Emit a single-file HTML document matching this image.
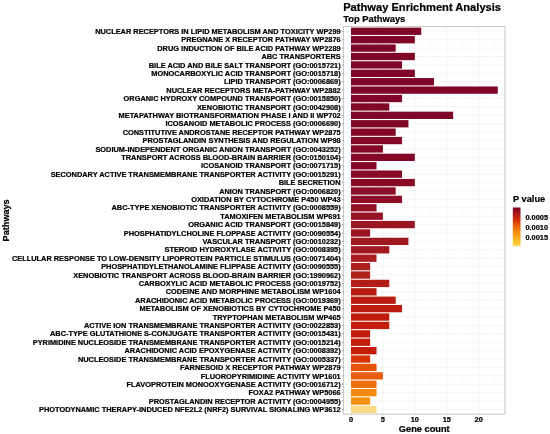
<!DOCTYPE html><html><head><meta charset="utf-8"><title>Pathway Enrichment Analysis</title>
<style>html,body{margin:0;padding:0;background:#fff}svg{display:block}text{font-family:"Liberation Sans",Arial,sans-serif;font-weight:bold;fill:#000;stroke:#000;stroke-width:0.22px;stroke-linejoin:round}</style></head><body>
<svg width="550" height="434" viewBox="0 0 550 434">
<rect width="550" height="434" fill="#fff"/>
<g stroke="#e8e8e8" fill="none">
<line x1="366.96" x2="366.96" y1="26.6" y2="414.1" stroke-width="0.22"/>
<line x1="398.87" x2="398.87" y1="26.6" y2="414.1" stroke-width="0.22"/>
<line x1="430.79" x2="430.79" y1="26.6" y2="414.1" stroke-width="0.22"/>
<line x1="462.70" x2="462.70" y1="26.6" y2="414.1" stroke-width="0.22"/>
<line x1="494.62" x2="494.62" y1="26.6" y2="414.1" stroke-width="0.22"/>
<line x1="351.00" x2="351.00" y1="26.6" y2="414.1" stroke-width="0.45"/>
<line x1="382.92" x2="382.92" y1="26.6" y2="414.1" stroke-width="0.45"/>
<line x1="414.83" x2="414.83" y1="26.6" y2="414.1" stroke-width="0.45"/>
<line x1="446.75" x2="446.75" y1="26.6" y2="414.1" stroke-width="0.45"/>
<line x1="478.66" x2="478.66" y1="26.6" y2="414.1" stroke-width="0.45"/>
<line x1="343.5" x2="505.0" y1="31.30" y2="31.30" stroke-width="0.45"/>
<line x1="343.5" x2="505.0" y1="39.70" y2="39.70" stroke-width="0.45"/>
<line x1="343.5" x2="505.0" y1="48.11" y2="48.11" stroke-width="0.45"/>
<line x1="343.5" x2="505.0" y1="56.51" y2="56.51" stroke-width="0.45"/>
<line x1="343.5" x2="505.0" y1="64.92" y2="64.92" stroke-width="0.45"/>
<line x1="343.5" x2="505.0" y1="73.32" y2="73.32" stroke-width="0.45"/>
<line x1="343.5" x2="505.0" y1="81.72" y2="81.72" stroke-width="0.45"/>
<line x1="343.5" x2="505.0" y1="90.13" y2="90.13" stroke-width="0.45"/>
<line x1="343.5" x2="505.0" y1="98.53" y2="98.53" stroke-width="0.45"/>
<line x1="343.5" x2="505.0" y1="106.94" y2="106.94" stroke-width="0.45"/>
<line x1="343.5" x2="505.0" y1="115.34" y2="115.34" stroke-width="0.45"/>
<line x1="343.5" x2="505.0" y1="123.74" y2="123.74" stroke-width="0.45"/>
<line x1="343.5" x2="505.0" y1="132.15" y2="132.15" stroke-width="0.45"/>
<line x1="343.5" x2="505.0" y1="140.55" y2="140.55" stroke-width="0.45"/>
<line x1="343.5" x2="505.0" y1="148.96" y2="148.96" stroke-width="0.45"/>
<line x1="343.5" x2="505.0" y1="157.36" y2="157.36" stroke-width="0.45"/>
<line x1="343.5" x2="505.0" y1="165.76" y2="165.76" stroke-width="0.45"/>
<line x1="343.5" x2="505.0" y1="174.17" y2="174.17" stroke-width="0.45"/>
<line x1="343.5" x2="505.0" y1="182.57" y2="182.57" stroke-width="0.45"/>
<line x1="343.5" x2="505.0" y1="190.98" y2="190.98" stroke-width="0.45"/>
<line x1="343.5" x2="505.0" y1="199.38" y2="199.38" stroke-width="0.45"/>
<line x1="343.5" x2="505.0" y1="207.78" y2="207.78" stroke-width="0.45"/>
<line x1="343.5" x2="505.0" y1="216.19" y2="216.19" stroke-width="0.45"/>
<line x1="343.5" x2="505.0" y1="224.59" y2="224.59" stroke-width="0.45"/>
<line x1="343.5" x2="505.0" y1="233.00" y2="233.00" stroke-width="0.45"/>
<line x1="343.5" x2="505.0" y1="241.40" y2="241.40" stroke-width="0.45"/>
<line x1="343.5" x2="505.0" y1="249.80" y2="249.80" stroke-width="0.45"/>
<line x1="343.5" x2="505.0" y1="258.21" y2="258.21" stroke-width="0.45"/>
<line x1="343.5" x2="505.0" y1="266.61" y2="266.61" stroke-width="0.45"/>
<line x1="343.5" x2="505.0" y1="275.02" y2="275.02" stroke-width="0.45"/>
<line x1="343.5" x2="505.0" y1="283.42" y2="283.42" stroke-width="0.45"/>
<line x1="343.5" x2="505.0" y1="291.82" y2="291.82" stroke-width="0.45"/>
<line x1="343.5" x2="505.0" y1="300.23" y2="300.23" stroke-width="0.45"/>
<line x1="343.5" x2="505.0" y1="308.63" y2="308.63" stroke-width="0.45"/>
<line x1="343.5" x2="505.0" y1="317.04" y2="317.04" stroke-width="0.45"/>
<line x1="343.5" x2="505.0" y1="325.44" y2="325.44" stroke-width="0.45"/>
<line x1="343.5" x2="505.0" y1="333.84" y2="333.84" stroke-width="0.45"/>
<line x1="343.5" x2="505.0" y1="342.25" y2="342.25" stroke-width="0.45"/>
<line x1="343.5" x2="505.0" y1="350.65" y2="350.65" stroke-width="0.45"/>
<line x1="343.5" x2="505.0" y1="359.06" y2="359.06" stroke-width="0.45"/>
<line x1="343.5" x2="505.0" y1="367.46" y2="367.46" stroke-width="0.45"/>
<line x1="343.5" x2="505.0" y1="375.86" y2="375.86" stroke-width="0.45"/>
<line x1="343.5" x2="505.0" y1="384.27" y2="384.27" stroke-width="0.45"/>
<line x1="343.5" x2="505.0" y1="392.67" y2="392.67" stroke-width="0.45"/>
<line x1="343.5" x2="505.0" y1="401.08" y2="401.08" stroke-width="0.45"/>
<line x1="343.5" x2="505.0" y1="409.48" y2="409.48" stroke-width="0.45"/>
</g>
<rect x="351.00" y="27.64" width="70.21" height="7.31" fill="#800628"/>
<rect x="351.00" y="36.05" width="63.83" height="7.31" fill="#800628"/>
<rect x="351.00" y="44.45" width="44.68" height="7.31" fill="#800628"/>
<rect x="351.00" y="52.86" width="63.83" height="7.31" fill="#800628"/>
<rect x="351.00" y="61.26" width="51.06" height="7.31" fill="#800628"/>
<rect x="351.00" y="69.66" width="63.83" height="7.31" fill="#800628"/>
<rect x="351.00" y="78.07" width="82.98" height="7.31" fill="#800628"/>
<rect x="351.00" y="86.47" width="146.81" height="7.31" fill="#800628"/>
<rect x="351.00" y="94.88" width="51.06" height="7.31" fill="#810728"/>
<rect x="351.00" y="103.28" width="38.30" height="7.31" fill="#810728"/>
<rect x="351.00" y="111.68" width="102.13" height="7.31" fill="#810728"/>
<rect x="351.00" y="120.09" width="57.45" height="7.31" fill="#810728"/>
<rect x="351.00" y="128.49" width="44.68" height="7.31" fill="#830827"/>
<rect x="351.00" y="136.90" width="51.06" height="7.31" fill="#830827"/>
<rect x="351.00" y="145.30" width="31.91" height="7.31" fill="#830827"/>
<rect x="351.00" y="153.70" width="63.83" height="7.31" fill="#840827"/>
<rect x="351.00" y="162.11" width="25.53" height="7.31" fill="#850927"/>
<rect x="351.00" y="170.51" width="51.06" height="7.31" fill="#870A27"/>
<rect x="351.00" y="178.92" width="63.83" height="7.31" fill="#880B26"/>
<rect x="351.00" y="187.32" width="44.68" height="7.31" fill="#8B0D26"/>
<rect x="351.00" y="195.72" width="51.06" height="7.31" fill="#8D0E25"/>
<rect x="351.00" y="204.13" width="25.53" height="7.31" fill="#911024"/>
<rect x="351.00" y="212.53" width="31.91" height="7.31" fill="#961323"/>
<rect x="351.00" y="220.94" width="63.83" height="7.31" fill="#9A1622"/>
<rect x="351.00" y="229.34" width="19.15" height="7.31" fill="#9C1622"/>
<rect x="351.00" y="237.74" width="57.45" height="7.31" fill="#A01820"/>
<rect x="351.00" y="246.15" width="38.30" height="7.31" fill="#A11920"/>
<rect x="351.00" y="254.55" width="25.53" height="7.31" fill="#A91D1E"/>
<rect x="351.00" y="262.96" width="19.15" height="7.31" fill="#AD1F1C"/>
<rect x="351.00" y="271.36" width="19.15" height="7.31" fill="#B0211B"/>
<rect x="351.00" y="279.76" width="38.30" height="7.31" fill="#B21C16"/>
<rect x="351.00" y="288.17" width="25.53" height="7.31" fill="#B61C14"/>
<rect x="351.00" y="296.57" width="44.68" height="7.31" fill="#BA1C12"/>
<rect x="351.00" y="304.98" width="51.06" height="7.31" fill="#BE1C0F"/>
<rect x="351.00" y="313.38" width="38.30" height="7.31" fill="#C01C0D"/>
<rect x="351.00" y="321.78" width="38.30" height="7.31" fill="#C11C0C"/>
<rect x="351.00" y="330.19" width="19.15" height="7.31" fill="#C21C0B"/>
<rect x="351.00" y="338.59" width="19.15" height="7.31" fill="#C21C0B"/>
<rect x="351.00" y="347.00" width="25.53" height="7.31" fill="#C31D0A"/>
<rect x="351.00" y="355.40" width="19.15" height="7.31" fill="#D83208"/>
<rect x="351.00" y="363.80" width="25.53" height="7.31" fill="#E6540A"/>
<rect x="351.00" y="372.21" width="31.91" height="7.31" fill="#E95C0A"/>
<rect x="351.00" y="380.61" width="25.53" height="7.31" fill="#EE6E08"/>
<rect x="351.00" y="389.02" width="25.53" height="7.31" fill="#F4880C"/>
<rect x="351.00" y="397.42" width="19.15" height="7.31" fill="#F6900A"/>
<rect x="351.00" y="405.82" width="25.53" height="7.31" fill="#FBD987"/>
<rect x="343.5" y="26.6" width="161.5" height="387.5" fill="none" stroke="#c8c8c8" stroke-width="1.05"/>
<g stroke="#777" stroke-width="0.7">
<line x1="341.90" x2="343.20" y1="31.30" y2="31.30"/>
<line x1="341.90" x2="343.20" y1="39.70" y2="39.70"/>
<line x1="341.90" x2="343.20" y1="48.11" y2="48.11"/>
<line x1="341.90" x2="343.20" y1="56.51" y2="56.51"/>
<line x1="341.90" x2="343.20" y1="64.92" y2="64.92"/>
<line x1="341.90" x2="343.20" y1="73.32" y2="73.32"/>
<line x1="341.90" x2="343.20" y1="81.72" y2="81.72"/>
<line x1="341.90" x2="343.20" y1="90.13" y2="90.13"/>
<line x1="341.90" x2="343.20" y1="98.53" y2="98.53"/>
<line x1="341.90" x2="343.20" y1="106.94" y2="106.94"/>
<line x1="341.90" x2="343.20" y1="115.34" y2="115.34"/>
<line x1="341.90" x2="343.20" y1="123.74" y2="123.74"/>
<line x1="341.90" x2="343.20" y1="132.15" y2="132.15"/>
<line x1="341.90" x2="343.20" y1="140.55" y2="140.55"/>
<line x1="341.90" x2="343.20" y1="148.96" y2="148.96"/>
<line x1="341.90" x2="343.20" y1="157.36" y2="157.36"/>
<line x1="341.90" x2="343.20" y1="165.76" y2="165.76"/>
<line x1="341.90" x2="343.20" y1="174.17" y2="174.17"/>
<line x1="341.90" x2="343.20" y1="182.57" y2="182.57"/>
<line x1="341.90" x2="343.20" y1="190.98" y2="190.98"/>
<line x1="341.90" x2="343.20" y1="199.38" y2="199.38"/>
<line x1="341.90" x2="343.20" y1="207.78" y2="207.78"/>
<line x1="341.90" x2="343.20" y1="216.19" y2="216.19"/>
<line x1="341.90" x2="343.20" y1="224.59" y2="224.59"/>
<line x1="341.90" x2="343.20" y1="233.00" y2="233.00"/>
<line x1="341.90" x2="343.20" y1="241.40" y2="241.40"/>
<line x1="341.90" x2="343.20" y1="249.80" y2="249.80"/>
<line x1="341.90" x2="343.20" y1="258.21" y2="258.21"/>
<line x1="341.90" x2="343.20" y1="266.61" y2="266.61"/>
<line x1="341.90" x2="343.20" y1="275.02" y2="275.02"/>
<line x1="341.90" x2="343.20" y1="283.42" y2="283.42"/>
<line x1="341.90" x2="343.20" y1="291.82" y2="291.82"/>
<line x1="341.90" x2="343.20" y1="300.23" y2="300.23"/>
<line x1="341.90" x2="343.20" y1="308.63" y2="308.63"/>
<line x1="341.90" x2="343.20" y1="317.04" y2="317.04"/>
<line x1="341.90" x2="343.20" y1="325.44" y2="325.44"/>
<line x1="341.90" x2="343.20" y1="333.84" y2="333.84"/>
<line x1="341.90" x2="343.20" y1="342.25" y2="342.25"/>
<line x1="341.90" x2="343.20" y1="350.65" y2="350.65"/>
<line x1="341.90" x2="343.20" y1="359.06" y2="359.06"/>
<line x1="341.90" x2="343.20" y1="367.46" y2="367.46"/>
<line x1="341.90" x2="343.20" y1="375.86" y2="375.86"/>
<line x1="341.90" x2="343.20" y1="384.27" y2="384.27"/>
<line x1="341.90" x2="343.20" y1="392.67" y2="392.67"/>
<line x1="341.90" x2="343.20" y1="401.08" y2="401.08"/>
<line x1="341.90" x2="343.20" y1="409.48" y2="409.48"/>
</g>
<g stroke="#c4c4c4" stroke-width="0.6">
<line x1="351.00" x2="351.00" y1="414.5" y2="416.3"/>
<line x1="382.92" x2="382.92" y1="414.5" y2="416.3"/>
<line x1="414.83" x2="414.83" y1="414.5" y2="416.3"/>
<line x1="446.75" x2="446.75" y1="414.5" y2="416.3"/>
<line x1="478.66" x2="478.66" y1="414.5" y2="416.3"/>
</g>
<g font-size="7.4" text-anchor="end">
<text x="340.7" y="33.95">NUCLEAR RECEPTORS IN LIPID METABOLISM AND TOXICITY WP299</text>
<text x="340.7" y="42.35">PREGNANE X RECEPTOR PATHWAY WP2876</text>
<text x="340.7" y="50.76">DRUG INDUCTION OF BILE ACID PATHWAY WP2289</text>
<text x="340.7" y="59.16">ABC TRANSPORTERS</text>
<text x="340.7" y="67.57">BILE ACID AND BILE SALT TRANSPORT (GO:0015721)</text>
<text x="340.7" y="75.97">MONOCARBOXYLIC ACID TRANSPORT (GO:0015718)</text>
<text x="340.7" y="84.37">LIPID TRANSPORT (GO:0006869)</text>
<text x="340.7" y="92.78">NUCLEAR RECEPTORS META-PATHWAY WP2882</text>
<text x="340.7" y="101.18">ORGANIC HYDROXY COMPOUND TRANSPORT (GO:0015850)</text>
<text x="340.7" y="109.59">XENOBIOTIC TRANSPORT (GO:0042908)</text>
<text x="340.7" y="117.99">METAPATHWAY BIOTRANSFORMATION PHASE I AND II WP702</text>
<text x="340.7" y="126.39">ICOSANOID METABOLIC PROCESS (GO:0006690)</text>
<text x="340.7" y="134.80">CONSTITUTIVE ANDROSTANE RECEPTOR PATHWAY WP2875</text>
<text x="340.7" y="143.20">PROSTAGLANDIN SYNTHESIS AND REGULATION WP98</text>
<text x="340.7" y="151.61">SODIUM-INDEPENDENT ORGANIC ANION TRANSPORT (GO:0043252)</text>
<text x="340.7" y="160.01">TRANSPORT ACROSS BLOOD-BRAIN BARRIER (GO:0150104)</text>
<text x="340.7" y="168.41">ICOSANOID TRANSPORT (GO:0071715)</text>
<text x="340.7" y="176.82">SECONDARY ACTIVE TRANSMEMBRANE TRANSPORTER ACTIVITY (GO:0015291)</text>
<text x="340.7" y="185.22">BILE SECRETION</text>
<text x="340.7" y="193.63">ANION TRANSPORT (GO:0006820)</text>
<text x="340.7" y="202.03">OXIDATION BY CYTOCHROME P450 WP43</text>
<text x="340.7" y="210.43">ABC-TYPE XENOBIOTIC TRANSPORTER ACTIVITY (GO:0008559)</text>
<text x="340.7" y="218.84">TAMOXIFEN METABOLISM WP691</text>
<text x="340.7" y="227.24">ORGANIC ACID TRANSPORT (GO:0015849)</text>
<text x="340.7" y="235.65">PHOSPHATIDYLCHOLINE FLOPPASE ACTIVITY (GO:0090554)</text>
<text x="340.7" y="244.05">VASCULAR TRANSPORT (GO:0010232)</text>
<text x="340.7" y="252.45">STEROID HYDROXYLASE ACTIVITY (GO:0008395)</text>
<text x="340.7" y="260.86">CELLULAR RESPONSE TO LOW-DENSITY LIPOPROTEIN PARTICLE STIMULUS (GO:0071404)</text>
<text x="340.7" y="269.26">PHOSPHATIDYLETHANOLAMINE FLIPPASE ACTIVITY (GO:0090555)</text>
<text x="340.7" y="277.67">XENOBIOTIC TRANSPORT ACROSS BLOOD-BRAIN BARRIER (GO:1990962)</text>
<text x="340.7" y="286.07">CARBOXYLIC ACID METABOLIC PROCESS (GO:0019752)</text>
<text x="340.7" y="294.47">CODEINE AND MORPHINE METABOLISM WP1604</text>
<text x="340.7" y="302.88">ARACHIDONIC ACID METABOLIC PROCESS (GO:0019369)</text>
<text x="340.7" y="311.28">METABOLISM OF XENOBIOTICS BY CYTOCHROME P450</text>
<text x="340.7" y="319.69">TRYPTOPHAN METABOLISM WP465</text>
<text x="340.7" y="328.09">ACTIVE ION TRANSMEMBRANE TRANSPORTER ACTIVITY (GO:0022853)</text>
<text x="340.7" y="336.49">ABC-TYPE GLUTATHIONE S-CONJUGATE TRANSPORTER ACTIVITY (GO:0015431)</text>
<text x="340.7" y="344.90">PYRIMIDINE NUCLEOSIDE TRANSMEMBRANE TRANSPORTER ACTIVITY (GO:0015214)</text>
<text x="340.7" y="353.30">ARACHIDONIC ACID EPOXYGENASE ACTIVITY (GO:0008392)</text>
<text x="340.7" y="361.71">NUCLEOSIDE TRANSMEMBRANE TRANSPORTER ACTIVITY (GO:0005337)</text>
<text x="340.7" y="370.11">FARNESOID X RECEPTOR PATHWAY WP2879</text>
<text x="340.7" y="378.51">FLUOROPYRIMIDINE ACTIVITY WP1601</text>
<text x="340.7" y="386.92">FLAVOPROTEIN MONOOXYGENASE ACTIVITY (GO:0016712)</text>
<text x="340.7" y="395.32">FOXA2 PATHWAY WP5066</text>
<text x="340.7" y="403.73">PROSTAGLANDIN RECEPTOR ACTIVITY (GO:0004955)</text>
<text x="340.7" y="412.13">PHOTODYNAMIC THERAPY-INDUCED NFE2L2 (NRF2) SURVIVAL SIGNALING WP3612</text>
</g>
<g font-size="7.4" text-anchor="middle">
<text x="351.00" y="422.4">0</text>
<text x="382.92" y="422.4">5</text>
<text x="414.83" y="422.4">10</text>
<text x="446.75" y="422.4">15</text>
<text x="478.66" y="422.4">20</text>
</g>
<text x="424.25" y="431.9" font-size="9.25" text-anchor="middle">Gene count</text>
<text transform="translate(8.9,220.35) rotate(-90)" font-size="9.15" text-anchor="middle">Pathways</text>
<text x="343.2" y="11.4" font-size="11.14">Pathway Enrichment Analysis</text>
<text x="343.2" y="21.7" font-size="9.35">Top Pathways</text>
<defs><linearGradient id="lg" x1="0" y1="0" x2="0" y2="1">
<stop offset="0" stop-color="#7D0025"/>
<stop offset="0.1" stop-color="#981220"/>
<stop offset="0.2" stop-color="#B42018"/>
<stop offset="0.3" stop-color="#D02C0C"/>
<stop offset="0.36" stop-color="#DC3A04"/>
<stop offset="0.45" stop-color="#E85A04"/>
<stop offset="0.55" stop-color="#F07408"/>
<stop offset="0.62" stop-color="#F68A0C"/>
<stop offset="0.7" stop-color="#F99A12"/>
<stop offset="0.77" stop-color="#FBA818"/>
<stop offset="0.87" stop-color="#FCBE28"/>
<stop offset="0.95" stop-color="#FCCB40"/>
<stop offset="1.0" stop-color="#FBD878"/>
</linearGradient></defs>
<text x="513" y="202.2" font-size="9.25">P value</text>
<rect x="512.8" y="207.5" width="7.7" height="38.8" fill="url(#lg)"/>
<g font-size="7.4">
<text x="525.4" y="220.25">0.0005</text>
<text x="525.4" y="230.05">0.0010</text>
<text x="525.4" y="239.95">0.0015</text>
</g>
</svg></body></html>
